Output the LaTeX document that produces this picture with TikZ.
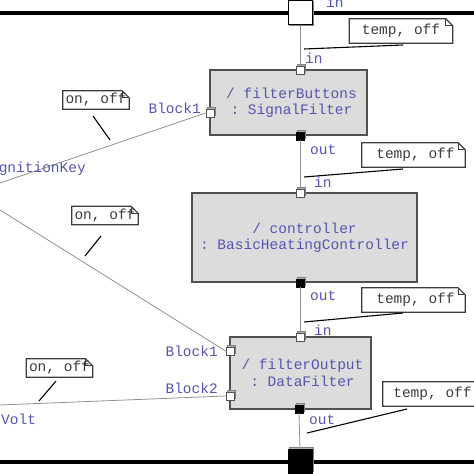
\documentclass[tikz,border=0pt]{standalone}
\usepackage{fontspec}
\setmonofont{Liberation Mono}
\usetikzlibrary{shadows}
\definecolor{lblblue}{RGB}{85,85,175}
\definecolor{blkfill}{RGB}{220,220,220}
\definecolor{blkborder}{RGB}{80,80,80}
\definecolor{wiregray}{RGB}{145,145,145}
\definecolor{notetext}{RGB}{60,60,60}
\begin{document}
\begin{tikzpicture}[x=1pt,y=-1pt,
  every node/.style={font=\ttfamily\fontsize{14.5}{16.5}\selectfont},
  lbl/.style={inner sep=0pt, text=lblblue},
  blockbox/.style={draw=blkborder, fill=blkfill, line width=1.4pt, align=center, inner sep=0pt, text=lblblue},
  inport/.style={draw=blkborder, fill=white, line width=0.8pt, minimum size=8pt, inner sep=0pt,
     copy shadow={shadow xshift=1.5pt, shadow yshift=1.5pt, fill=gray!60, draw=gray}},
  outport/.style={draw=black, fill=black, minimum size=8pt, inner sep=0pt,
     copy shadow={shadow xshift=1.5pt, shadow yshift=1.5pt, fill=gray!60, draw=gray}},
  sysin/.style={draw=black, fill=white, line width=1pt, minimum size=24pt, inner sep=0pt,
     copy shadow={shadow xshift=1.5pt, shadow yshift=-1.5pt, fill=gray!60, draw=gray}},
  sysout/.style={draw=black, fill=black, minimum size=24pt, inner sep=0pt,
     copy shadow={shadow xshift=1.5pt, shadow yshift=1.5pt, fill=gray!60, draw=gray}},
  wire/.style={draw=wiregray, line width=0.8pt},
  notebox/.style={inner sep=0pt, text=notetext},
  tempnote/.style={notebox, minimum width=103pt, minimum height=24pt},
  onnote/.style={notebox, minimum width=66pt, minimum height=18pt},
  noteline/.style={draw=notetext, fill=white, line width=1.2pt},
  notetie/.style={draw=black, line width=1.1pt},
  thick bar/.style={draw=black, line width=4pt},
]
\useasboundingbox (0,0) rectangle (474,474);
\clip (0,0) rectangle (474,474);

% system boundary bars
\coordinate (tl) at (0,13);
\coordinate (tr) at (474,13);
\coordinate (bl) at (0,462);
\coordinate (br) at (474,462);
\draw[thick bar] (tl) -- (tr);
\draw[thick bar] (bl) -- (br);

% blocks
\node[blockbox, minimum width=157pt, minimum height=65pt] (fb) at (288.5,102.5)
  {\hspace*{6pt}/ filterButtons\\\hspace*{6pt}: SignalFilter};
\node[blockbox, minimum width=225pt, minimum height=89pt] (ct) at (304.5,237.5)
  {/ controller\\: BasicHeatingController};
\node[blockbox, minimum width=141pt, minimum height=72pt] (fo) at (300.5,373)
  {\hspace*{4pt}/ filterOutput\\\hspace*{4pt}: DataFilter};

% wires (drawn before ports)
\coordinate (ik) at (0,183);
\coordinate (ik2) at (0,210);
\coordinate (vt) at (0,405);

% ports
\node[sysin] (top) at (300,12) {};
\node[sysout] (bot) at (300,461) {};
\node[inport] (fbin) at (300,70) {};
\node[outport] (fbout) at (300,136) {};
\node[inport] (fbb1) at (210,113) {};
\node[inport] (ctin) at (300,193) {};
\node[outport] (ctout) at (300,283) {};
\node[inport] (foin) at (300,337) {};
\node[outport] (foout) at (299,409) {};
\node[inport] (fob1) at (230,351) {};
\node[inport] (fob2) at (230,396) {};

\draw[wire] (top.south) -- (fbin.north);
\draw[wire] (fbout.south) -- (ctin.north);
\draw[wire] (ctout.south) -- (foin.north);
\draw[wire] (foout.south) -- (bot.north);
\draw[wire] (fbb1.west) -- (ik);
\draw[wire] (fob1.west) -- (ik2);
\draw[wire] (fob2.west) -- (vt);

% port labels
\node[lbl, anchor=west] (l1) at (326,2) {in};
\node[lbl, anchor=west] (l2) at (305,58) {in};
\node[lbl, anchor=west] (l3) at (310,150) {out};
\node[lbl, anchor=west] (l4) at (314,182) {in};
\node[lbl, anchor=west] (l5) at (310,296) {out};
\node[lbl, anchor=west] (l6) at (314,330) {in};
\node[lbl, anchor=west] (l7) at (309,420) {out};
\node[lbl, anchor=east] (l8) at (201,108) {Block1};
\node[lbl, anchor=east] (l9) at (218,351) {Block1};
\node[lbl, anchor=east] (l10) at (218,388) {Block2};
\node[lbl, anchor=east] (l11) at (86,169) {ignitionKey};
\node[lbl, anchor=west] (l12) at (1,419) {Volt};

% notes
\node[tempnote] (n1) at (401,31) {};
\node[tempnote] (n2) at (413.5,155) {};
\node[tempnote] (n3) at (413.5,300) {};
\node[tempnote] (n4) at (434.5,394) {};
\node[onnote] (o1) at (96,100) {};
\node[onnote] (o2) at (105,215.5) {};
\node[onnote] (o3) at (59.5,368) {};
\foreach \n in {n1,n2,n3,n4,o1,o2,o3}{
  \draw[noteline] (\n.north west) -- ([xshift=-7pt]\n.north east) -- ([yshift=-7pt]\n.north east)
     -- (\n.south east) -- (\n.south west) -- cycle;
  \draw[draw=notetext, line width=0.8pt] ([xshift=-7pt]\n.north east) |- ([yshift=-7pt]\n.north east);
}
\node[notebox] at (n1) {temp, off};
\node[notebox] at ([xshift=2pt]n2.center) {temp, off};
\node[notebox] at ([xshift=2pt]n3.center) {temp, off};
\node[notebox] at ([xshift=-2pt]n4.center) {temp, off};
\node[notebox] at (o1) {on, off};
\node[notebox] at (o2) {on, off};
\node[notebox] at (o3) {on, off};

% note ties
\coordinate (t1a) at (403,45);  \coordinate (t1b) at (304,49);
\coordinate (t2a) at (403,169); \coordinate (t2b) at (304,177);
\coordinate (t3a) at (403,313); \coordinate (t3b) at (304,322);
\coordinate (t4a) at (407,409); \coordinate (t4b) at (307,433);
\coordinate (t5a) at (93,116);  \coordinate (t5b) at (110,140);
\coordinate (t6a) at (101,236); \coordinate (t6b) at (85,256);
\coordinate (t7a) at (56,381);  \coordinate (t7b) at (39,401);
\foreach \a/\b in {t1a/t1b,t2a/t2b,t3a/t3b,t4a/t4b,t5a/t5b,t6a/t6b,t7a/t7b}
  \draw[notetie] (\a) -- (\b);
\end{tikzpicture}
\end{document}
